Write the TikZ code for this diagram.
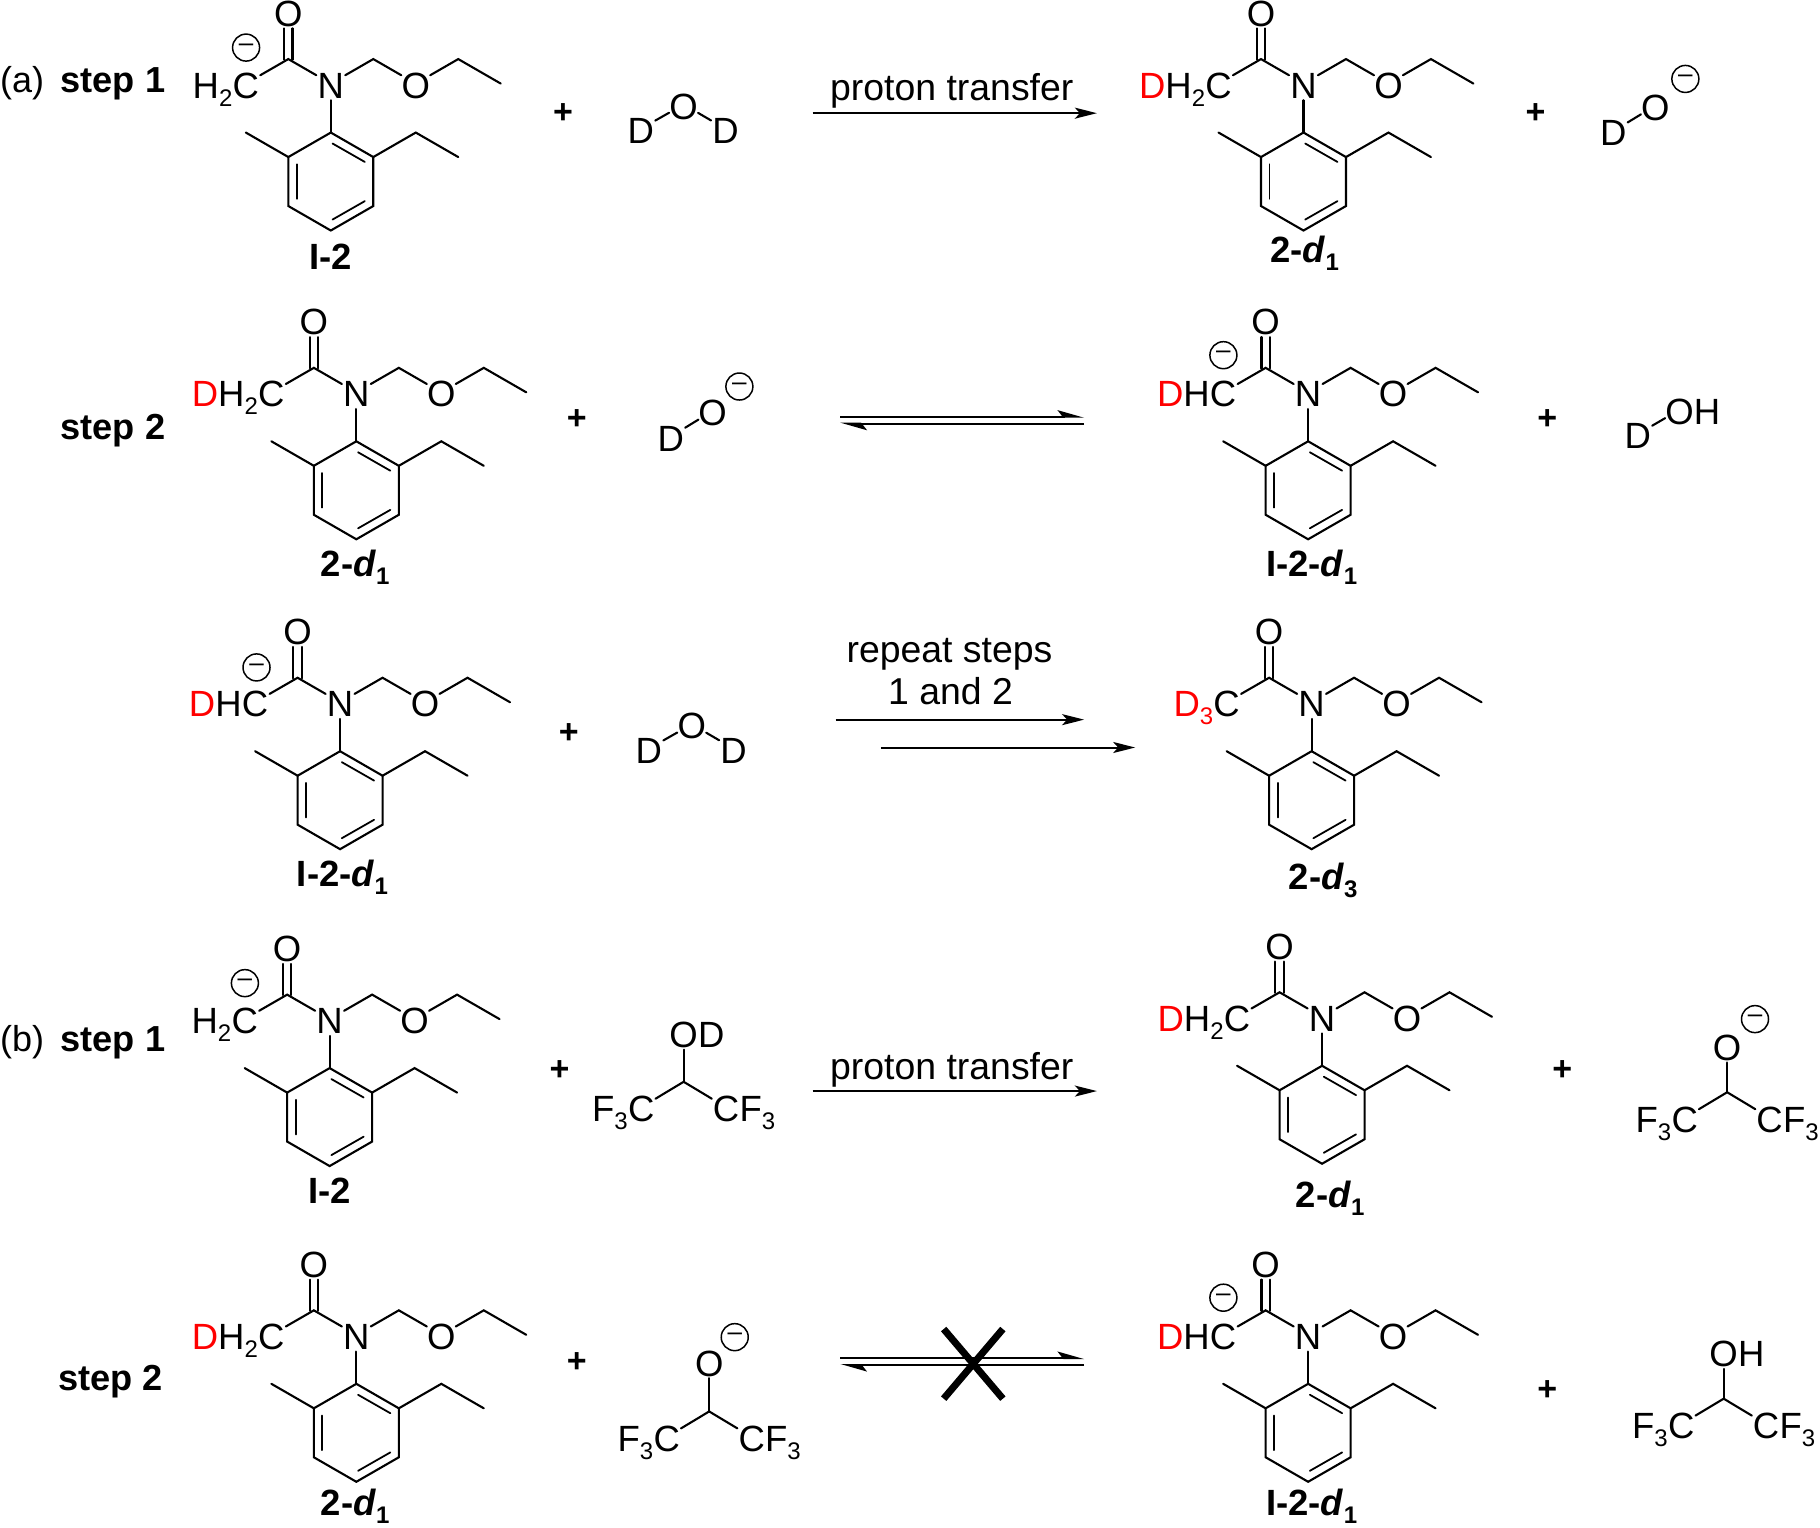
\documentclass[tikz,border=0pt]{standalone}
\usepackage{fontspec}
\setmainfont{Liberation Sans}
\usetikzlibrary{arrows.meta,calc}
\newcommand{\sbs}[1]{\raisebox{-0.22em}{\fontsize{24}{24}\selectfont #1}}
\newcommand{\redd}{\textcolor{red}{D}}
\newcommand{\At}[1]{\makebox[0pt][c]{\raisebox{-0.4em}[0pt][0pt]{#1}}}
\tikzset{
  atom/.style={circle,inner sep=0pt,minimum size=33pt,font=\fontsize{36.5}{40}\selectfont},
  txt/.style={inner sep=0pt,font=\fontsize{36.5}{40}\selectfont},
  bond/.style={line width=2.1pt,line cap=round,line join=miter},
  thinbond/.style={line width=1.8pt,line cap=round},
  minusc/.style={circle,draw,line width=1.5pt,minimum size=27pt,inner sep=0pt,font=\fontsize{26}{26}\selectfont},
  plussign/.style={inner sep=0pt,yshift=-2pt,font=\fontsize{34}{40}\bfseries\selectfont},
  steplab/.style={anchor=base west,inner sep=0pt,font=\fontsize{36.2}{40}\bfseries\selectfont},
  paren/.style={anchor=base west,inner sep=0pt,font=\fontsize{36}{40}\selectfont},
  cmpd/.style={anchor=base,inner sep=0pt,font=\fontsize{36.5}{40}\bfseries\selectfont},
  arrowlab/.style={anchor=base,inner sep=0pt,font=\fontsize{37.4}{44}\selectfont},
  rxn/.style={line width=2pt,-{Stealth[length=22pt,width=11pt,inset=5pt]}},
  harp/.style={line width=2pt,-{Stealth[harpoon,length=23pt,width=13pt,inset=5pt]}},
  crossbar/.style={line width=7pt},
}
% name, x, y, prefix text to the left of C
\newcommand{\amide}[4]{%
 \begin{scope}[shift={(#2,#3)}]
  \node[atom] (#1N) at (0,0) {\At{N}};
  \coordinate (#1co) at (-36.6,-21.1);
  \node[atom] (#1O) at (-36.6,-62) {\At{O}};
  \node[atom] (#1C) at (-73.2,0) {\At{C}};
  \node[txt,anchor=base east] (#1P) at (-84.6,12.6) {#4};
  \coordinate (#1m) at (36.6,-21.1);
  \node[atom] (#1E) at (73.2,0) {\At{O}};
  \coordinate (#1e1) at (109.8,-21.1);
  \coordinate (#1e2) at (146.4,0);
  \coordinate (#1r1) at (0,42.2);
  \coordinate (#1r2) at (36.6,63.3);
  \coordinate (#1r3) at (36.6,105.5);
  \coordinate (#1r4) at (0,126.6);
  \coordinate (#1r5) at (-36.6,105.5);
  \coordinate (#1r6) at (-36.6,63.3);
  \coordinate (#1me) at (-73.2,42.2);
  \coordinate (#1et1) at (73.2,42.2);
  \coordinate (#1et2) at (109.8,63.3);
  \coordinate (#1rc) at (0,84.4);
  \draw[bond] (#1C) -- (#1co) -- (#1N) -- (#1m) -- (#1E) -- (#1e1) -- (#1e2);
  \draw[bond] (#1N) -- (#1r1);
  \draw[bond] (#1r1) -- (#1r2) -- (#1r3) -- (#1r4) -- (#1r5) -- (#1r6) -- cycle;
  \draw[bond] (#1r6) -- (#1me);
  \draw[bond] (#1r2) -- (#1et1) -- (#1et2);
  \draw[bond] ($(#1co)+(-3.6,0.5)$) -- ($(#1O.south)+(-3.6,0)$);
  \draw[bond] ($(#1co)+(3.6,0.5)$) -- ($(#1O.south)+(3.6,0)$);
  \draw[thinbond] ($(#1rc)!0.8!(#1r1)+(1.5,1)$) -- ($(#1rc)!0.8!(#1r2)$);
  \draw[thinbond] ($(#1rc)!0.8!(#1r3)$) -- ($(#1rc)!0.8!(#1r4)+(1.5,-1)$);
  \draw[thinbond] ($(#1rc)!0.8!(#1r5)+(0,-2)$) -- ($(#1rc)!0.8!(#1r6)+(0,2)$);
 \end{scope}}
% name, x, y : minus circle above the alpha carbon
\newcommand{\carbanion}[3]{\node[minusc] (#1) at (#2,#3) {–};}
% name, x, vertex y
\newcommand{\tfe}[3]{%
  \coordinate (#1v) at (#2,#3);
  \node[atom] (#1L) at ($(#1v)+(-36.6,22)$) {\At{C}};
  \node[atom] (#1R) at ($(#1v)+(36.6,22)$) {\At{C}};
  \node[txt,anchor=base east] (#1LF) at ($(#1L)+(-11.4,12.6)$) {F\sbs{3}};
  \node[txt,anchor=base west] (#1RF) at ($(#1R)+(11.4,12.6)$) {F\sbs{3}};
  \draw[bond] (#1L) -- (#1v) -- (#1R);}

\begin{document}
\begin{tikzpicture}[x=1.1607pt,y=-1.1607pt]
\useasboundingbox (0,0) rectangle (1568,1315.6);

% ---------- row 1
\node[paren] (pa) at (0,80) {(a)};
\node[steplab] (s1a) at (52,80) {step 1};
\amide{a}{285}{72}{H\sbs{2}}
\carbanion{am}{212}{41}
\node[cmpd] (la) at (285,232) {I-2};
\node[plussign] (p1) at (485,96) {+};
\node[atom] (d1O) at (589,90) {\At{O}};
\node[atom] (d1A) at (552,111) {\At{D}};
\node[atom] (d1B) at (625,111) {\At{D}};
\draw[bond] (d1A) -- (d1O) -- (d1B);
\coordinate (ar1s) at (700,97.5);
\coordinate (ar1e) at (945,97.5);
\draw[rxn] (ar1s) -- (ar1e);
\node[arrowlab] (t1) at (820,87) {proton transfer};
\amide{b}{1123}{72}{\redd H\sbs{2}}
\node[cmpd] (lb) at (1124,226) {2-\textit{d}\sbs{1}};
\node[plussign] (p2) at (1323,96) {+};
\node[atom] (d2D) at (1390,113) {\At{D}};
\node[atom] (d2O) at (1426,91) {\At{O}};
\draw[bond] (d2D) -- (d2O);
\carbanion{d2m}{1452}{68}

% ---------- row 2
\node[steplab] (s2a) at (52,379) {step 2};
\amide{c}{307}{338}{\redd H\sbs{2}}
\node[cmpd] (lc) at (306,497) {2-\textit{d}\sbs{1}};
\node[plussign] (p3) at (497,360) {+};
\node[atom] (d3D) at (578,376) {\At{D}};
\node[atom] (d3O) at (614,354) {\At{O}};
\draw[bond] (d3D) -- (d3O);
\carbanion{d3m}{637}{333}
\coordinate (e1a) at (724,359);
\coordinate (e1b) at (934,359);
\coordinate (e1c) at (934,365);
\coordinate (e1d) at (724,365);
\draw[harp] (e1a) -- (e1b);
\draw[harp] (e1c) -- (e1d);
\amide{d}{1127}{338}{\redd H}
\carbanion{dm}{1054}{306}
\node[cmpd] (ld) at (1130,497) {I-2-\textit{d}\sbs{1}};
\node[plussign] (p4) at (1333,360) {+};
\node[atom] (d4D) at (1411,374) {\At{D}};
\node[atom] (d4O) at (1447,353) {\At{O}};
\node[txt,anchor=base west] (d4H) at ($(d4O.center)+(12.2,12.6)$) {H};
\draw[bond] (d4D) -- (d4O);

% ---------- row 3
\amide{e}{293}{605}{\redd H}
\carbanion{em}{221}{575}
\node[cmpd] (le) at (295,764) {I-2-\textit{d}\sbs{1}};
\node[plussign] (p5) at (490,630) {+};
\node[atom] (d5O) at (596,624) {\At{O}};
\node[atom] (d5A) at (559,645) {\At{D}};
\node[atom] (d5B) at (632,645) {\At{D}};
\draw[bond] (d5A) -- (d5O) -- (d5B);
\node[arrowlab] (t2) at (818,571) {repeat steps};
\node[arrowlab] (t3) at (819,607) {1 and 2};
\coordinate (r1s) at (720,620);
\coordinate (r1e) at (934,620);
\coordinate (r2s) at (759,644);
\coordinate (r2e) at (978,644);
\draw[rxn] (r1s) -- (r1e);
\draw[rxn] (r2s) -- (r2e);
\amide{f}{1130}{605}{\textcolor{red}{D\sbs{3}}}
\node[cmpd] (lf) at (1140,766) {2-\textit{d}\sbs{3}};

% ---------- row 4 (b)
\node[paren] (pb) at (0,906) {(b)};
\node[steplab] (s1b) at (52,906) {step 1};
\amide{g}{284}{878}{H\sbs{2}}
\carbanion{gm}{211}{847}
\node[cmpd] (lg) at (284,1037) {I-2};
\node[plussign] (p6) at (482,921) {+};
\tfe{t}{589}{932}
\node[atom] (tO) at (589,890) {\At{O}};
\node[txt,anchor=base west] (tD) at ($(tO.center)+(12.2,12.6)$) {D};
\draw[bond] (tO) -- (tv);
\coordinate (ar2s) at (700,940);
\coordinate (ar2e) at (945,940);
\draw[rxn] (ar2s) -- (ar2e);
\node[arrowlab] (t4) at (820,930) {proton transfer};
\amide{h}{1139}{876}{\redd H\sbs{2}}
\node[cmpd] (lh) at (1146,1040) {2-\textit{d}\sbs{1}};
\node[plussign] (p7) at (1346,921) {+};
\tfe{u}{1488}{941}
\node[atom] (uO) at (1488,901) {\At{O}};
\draw[bond] (uO) -- (uv);
\carbanion{um}{1512}{878}

% ---------- row 5
\node[steplab] (s2b) at (50,1198) {step 2};
\amide{i}{307}{1150}{\redd H\sbs{2}}
\node[cmpd] (li) at (306,1305.5) {2-\textit{d}\sbs{1}};
\node[plussign] (p8) at (497,1172) {+};
\tfe{v}{611}{1216}
\node[atom] (vO) at (611,1173) {\At{O}};
\draw[bond] (vO) -- (vv);
\carbanion{vm}{633}{1152}
\coordinate (e2a) at (724,1170);
\coordinate (e2b) at (934,1170);
\coordinate (e2c) at (934,1176);
\coordinate (e2d) at (724,1176);
\draw[harp] (e2a) -- (e2b);
\draw[harp] (e2c) -- (e2d);
\coordinate (x1) at (813,1145);
\coordinate (x2) at (864,1205);
\coordinate (x3) at (864,1145);
\coordinate (x4) at (813,1205);
\draw[crossbar] (x1) -- (x2);
\draw[crossbar] (x3) -- (x4);
\amide{j}{1127}{1150}{\redd H}
\carbanion{jm}{1054}{1118}
\node[cmpd] (lj) at (1130,1305.5) {I-2-\textit{d}\sbs{1}};
\node[plussign] (p9) at (1333,1196) {+};
\tfe{w}{1485}{1205}
\node[atom] (wO) at (1485,1165) {\At{O}};
\node[txt,anchor=base west] (wH) at ($(wO.center)+(12.2,12.6)$) {H};
\draw[bond] (wO) -- (wv);
\end{tikzpicture}
\end{document}
